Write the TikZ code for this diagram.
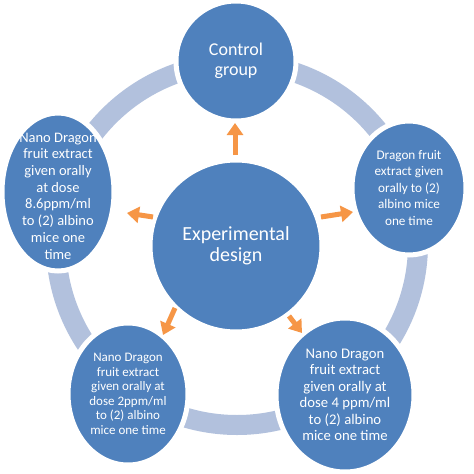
\documentclass[tikz,border=0pt]{standalone}
\usepackage{fontspec}
\setmainfont{Carlito}
\usetikzlibrary{shapes.geometric,arrows.meta}
\definecolor{bubble}{RGB}{79,129,189}
\definecolor{ringc}{RGB}{178,193,221}
\definecolor{arrowc}{RGB}{246,150,70}
\tikzset{
  bub/.style={ellipse, fill=bubble, draw=white, line width=5pt, inner sep=0pt},
  txt/.style={text=white, align=center, inner sep=0pt},
  ringline/.style={draw=ringc, line width=20pt},
  arr/.style={draw=arrowc, line width=5pt, -{Triangle[width=16pt,length=12pt]}}
}
\begin{document}
\begin{tikzpicture}[x=1pt,y=-1pt]
\useasboundingbox (0,0) rectangle (474,474);
\fill[white] (0,0) rectangle (474,474);
% ring
\draw[ringline] (237,244) circle[radius=181];
% satellites
\node[bub, minimum width=120pt, minimum height=120pt] (ctrl) at (236,61) {};
\node[bub, minimum width=114pt, minimum height=134pt] (right) at (409,188) {};
\node[bub, minimum width=138pt, minimum height=154pt] (bright) at (345,395) {};
\node[bub, minimum width=120pt, minimum height=142pt] (bleft) at (128,394) {};
\node[bub, minimum width=112pt, minimum height=158pt] (left) at (58,192) {};
% centre
\node[bub, minimum width=172pt, minimum height=172pt] (centre) at (236,246) {};
% texts
\node[txt, font=\fontsize{18}{20.5}\selectfont] (tctrl) at (ctrl.center) {Control\\group};
\node[txt, font=\fontsize{20}{21}\selectfont] (tcentre) at (centre.center) {Experimental\\design};
\node[txt, font=\fontsize{13.2}{16.5}\selectfont] (tright) at (right.center) {Dragon fruit\\extract given\\orally to (2)\\albino mice\\one time};
\node[txt, font=\fontsize{14.7}{16.5}\selectfont] (tbright) at (bright.center) {Nano Dragon\\fruit extract\\given orally at\\dose 4 ppm/ml\\to (2) albino\\mice one time};
\node[txt, font=\fontsize{13}{14.5}\selectfont] (tbleft) at (bleft.center) {Nano Dragon\\fruit extract\\given orally at\\dose 2ppm/ml\\to (2) albino\\mice one time};
\node[txt, font=\fontsize{14.5}{16.7}\selectfont] (tleft) at ([yshift=-4]left.center) {Nano Dragon\\fruit extract\\given orally\\at dose\\8.6ppm/ml\\to (2) albino\\mice one\\time};
% arrows
\coordinate (a1s) at (235,155); \coordinate (a1e) at (235,123);
\coordinate (a2s) at (321,217); \coordinate (a2e) at (353,212);
\coordinate (a3s) at (153,217); \coordinate (a3e) at (127,213);
\coordinate (a4s) at (175,308); \coordinate (a4e) at (163,335);
\coordinate (a5s) at (289,316); \coordinate (a5e) at (302,333);
\draw[arr] (a1s) -- (a1e);
\draw[arr] (a2s) -- (a2e);
\draw[arr] (a3s) -- (a3e);
\draw[arr] (a4s) -- (a4e);
\draw[arr] (a5s) -- (a5e);
\end{tikzpicture}
\end{document}
